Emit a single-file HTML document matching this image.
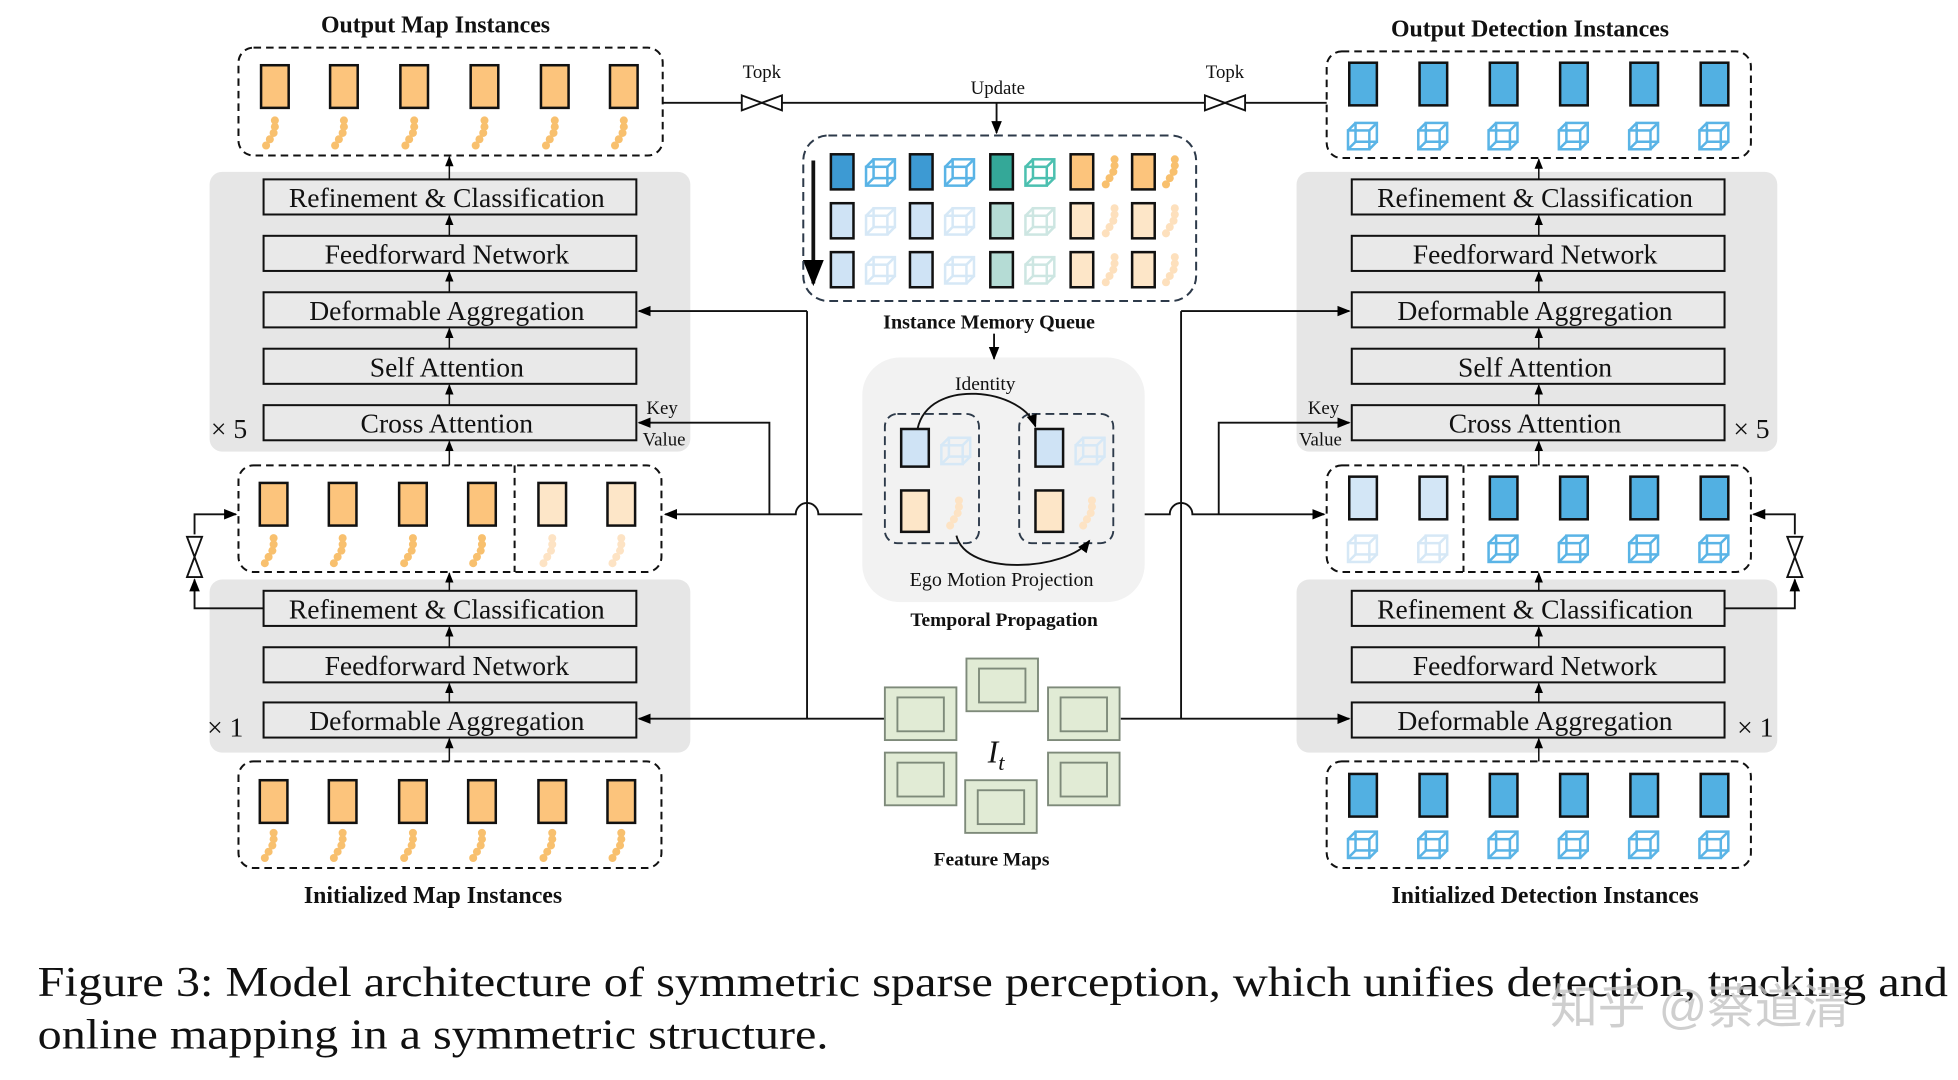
<!DOCTYPE html>
<html><head><meta charset="utf-8"><style>
html,body{margin:0;padding:0;background:#fff;width:1958px;height:1080px;overflow:hidden}
svg{display:block}
text{font-family:"Liberation Serif",serif;fill:#111}
.b{font-weight:bold;font-size:19px}
.bx{font-size:22px}
</style></head><body>
<svg width="1958" height="1080" viewBox="0 0 1560 861" preserveAspectRatio="none" xmlns="http://www.w3.org/2000/svg">
<defs>
<marker id="ar" viewBox="0 0 10 10" refX="9" refY="5" markerWidth="7" markerHeight="7" orient="auto-start-reverse"><path d="M0,1 L10,5 L0,9 z" fill="#000"/></marker>
<g id="sq"><circle cx="9" cy="2" r="3.2"/><circle cx="9" cy="7" r="3.2"/><circle cx="8" cy="12" r="3.2"/><circle cx="5" cy="17" r="3.2"/><circle cx="2" cy="22" r="3.2"/></g>
<g id="cube" fill="none" stroke-width="2"><rect x="0" y="6" width="17" height="15"/><rect x="6" y="0" width="17" height="15"/><path d="M0,6 L6,0 M17,6 L23,0 M17,21 L23,15 M0,21 L6,15"/></g>
</defs>

<rect x="167" y="137" width="383" height="223" rx="10" fill="#e6e6e6"/>
<rect x="167" y="462" width="383" height="138" rx="10" fill="#e6e6e6"/>
<rect x="1033" y="137" width="383" height="223" rx="10" fill="#e6e6e6"/>
<rect x="1033" y="462" width="383" height="138" rx="10" fill="#e6e6e6"/>
<rect x="687" y="285" width="225" height="195" rx="30" fill="#f2f2f2"/>

<text class="b" x="347" y="26" text-anchor="middle">Output Map Instances</text>
<text class="b" x="1219" y="29" text-anchor="middle">Output Detection Instances</text>
<text class="b" x="345" y="720" text-anchor="middle">Initialized Map Instances</text>
<text class="b" x="1231" y="720" text-anchor="middle">Initialized Detection Instances</text>

<g fill="none" stroke="#111" stroke-width="1.6" stroke-dasharray="6,4">
<rect x="190" y="38" width="338" height="86" rx="12"/>
<rect x="190" y="371" width="337" height="85" rx="12"/><line x1="410" y1="371" x2="410" y2="456"/>
<rect x="190" y="607" width="337" height="85" rx="12"/>
<rect x="1057" y="41" width="338" height="85" rx="12"/>
<rect x="1057" y="371" width="338" height="85" rx="12"/><line x1="1166" y1="371" x2="1166" y2="456"/>
<rect x="1057" y="607" width="338" height="85" rx="12"/>
</g>

<g stroke="#111" stroke-width="2">
<rect x="208" y="52" width="22" height="34" fill="#fcc47c"/><rect x="263" y="52" width="22" height="34" fill="#fcc47c"/><rect x="319" y="52" width="22" height="34" fill="#fcc47c"/><rect x="375" y="52" width="22" height="34" fill="#fcc47c"/><rect x="431" y="52" width="22" height="34" fill="#fcc47c"/><rect x="486" y="52" width="22" height="34" fill="#fcc47c"/>
<rect x="207" y="385" width="22" height="34" fill="#fcc47c"/><rect x="262" y="385" width="22" height="34" fill="#fcc47c"/><rect x="318" y="385" width="22" height="34" fill="#fcc47c"/><rect x="373" y="385" width="22" height="34" fill="#fcc47c"/><rect x="429" y="385" width="22" height="34" fill="#fde6c8"/><rect x="484" y="385" width="22" height="34" fill="#fde6c8"/>
<rect x="207" y="622" width="22" height="34" fill="#fcc47c"/><rect x="262" y="622" width="22" height="34" fill="#fcc47c"/><rect x="318" y="622" width="22" height="34" fill="#fcc47c"/><rect x="373" y="622" width="22" height="34" fill="#fcc47c"/><rect x="429" y="622" width="22" height="34" fill="#fcc47c"/><rect x="484" y="622" width="22" height="34" fill="#fcc47c"/>
</g>
<g fill="#f8c06e">
<use href="#sq" x="210" y="94"/><use href="#sq" x="265" y="94"/><use href="#sq" x="321" y="94"/><use href="#sq" x="377" y="94"/><use href="#sq" x="433" y="94"/><use href="#sq" x="488" y="94"/>
<use href="#sq" x="209" y="427"/><use href="#sq" x="264" y="427"/><use href="#sq" x="320" y="427"/><use href="#sq" x="375" y="427"/>
<use href="#sq" x="209" y="662"/><use href="#sq" x="264" y="662"/><use href="#sq" x="320" y="662"/><use href="#sq" x="375" y="662"/><use href="#sq" x="431" y="662"/><use href="#sq" x="486" y="662"/>
</g>
<g fill="#fde3c4"><use href="#sq" x="431" y="427"/><use href="#sq" x="486" y="427"/></g>

<g stroke="#111" stroke-width="2">
<rect x="1075" y="50" width="22" height="34" fill="#52b0e2"/><rect x="1131" y="50" width="22" height="34" fill="#52b0e2"/><rect x="1187" y="50" width="22" height="34" fill="#52b0e2"/><rect x="1243" y="50" width="22" height="34" fill="#52b0e2"/><rect x="1299" y="50" width="22" height="34" fill="#52b0e2"/><rect x="1355" y="50" width="22" height="34" fill="#52b0e2"/>
<rect x="1075" y="380" width="22" height="34" fill="#d3e6f6"/><rect x="1131" y="380" width="22" height="34" fill="#d3e6f6"/><rect x="1187" y="380" width="22" height="34" fill="#52b0e2"/><rect x="1243" y="380" width="22" height="34" fill="#52b0e2"/><rect x="1299" y="380" width="22" height="34" fill="#52b0e2"/><rect x="1355" y="380" width="22" height="34" fill="#52b0e2"/>
<rect x="1075" y="617" width="22" height="34" fill="#52b0e2"/><rect x="1131" y="617" width="22" height="34" fill="#52b0e2"/><rect x="1187" y="617" width="22" height="34" fill="#52b0e2"/><rect x="1243" y="617" width="22" height="34" fill="#52b0e2"/><rect x="1299" y="617" width="22" height="34" fill="#52b0e2"/><rect x="1355" y="617" width="22" height="34" fill="#52b0e2"/>
</g>
<g stroke="#5ab4e6">
<use href="#cube" x="1074" y="98"/><use href="#cube" x="1130" y="98"/><use href="#cube" x="1186" y="98"/><use href="#cube" x="1242" y="98"/><use href="#cube" x="1298" y="98"/><use href="#cube" x="1354" y="98"/>
<use href="#cube" x="1186" y="427"/><use href="#cube" x="1242" y="427"/><use href="#cube" x="1298" y="427"/><use href="#cube" x="1354" y="427"/>
<use href="#cube" x="1074" y="663"/><use href="#cube" x="1130" y="663"/><use href="#cube" x="1186" y="663"/><use href="#cube" x="1242" y="663"/><use href="#cube" x="1298" y="663"/><use href="#cube" x="1354" y="663"/>
</g>
<g stroke="#d6e8f6"><use href="#cube" x="1074" y="427"/><use href="#cube" x="1130" y="427"/></g>

<g fill="#e9e9e9" stroke="#111" stroke-width="1.6">
<rect x="210" y="143" width="297" height="28"/><rect x="210" y="188" width="297" height="28"/><rect x="210" y="233" width="297" height="28"/><rect x="210" y="278" width="297" height="28"/><rect x="210" y="323" width="297" height="28"/>
<rect x="210" y="471" width="297" height="28"/><rect x="210" y="516" width="297" height="28"/><rect x="210" y="560" width="297" height="28"/>
<rect x="1077" y="143" width="297" height="28"/><rect x="1077" y="188" width="297" height="28"/><rect x="1077" y="233" width="297" height="28"/><rect x="1077" y="278" width="297" height="28"/><rect x="1077" y="323" width="297" height="28"/>
<rect x="1077" y="471" width="297" height="28"/><rect x="1077" y="516" width="297" height="28"/><rect x="1077" y="560" width="297" height="28"/>
</g>
<g text-anchor="middle">
<text class="bx" x="356" y="165">Refinement &amp; Classification</text><text class="bx" x="356" y="210">Feedforward Network</text><text class="bx" x="356" y="255">Deformable Aggregation</text><text class="bx" x="356" y="300">Self Attention</text><text class="bx" x="356" y="345">Cross Attention</text>
<text class="bx" x="356" y="493">Refinement &amp; Classification</text><text class="bx" x="356" y="538">Feedforward Network</text><text class="bx" x="356" y="582">Deformable Aggregation</text>
<text class="bx" x="1223" y="165">Refinement &amp; Classification</text><text class="bx" x="1223" y="210">Feedforward Network</text><text class="bx" x="1223" y="255">Deformable Aggregation</text><text class="bx" x="1223" y="300">Self Attention</text><text class="bx" x="1223" y="345">Cross Attention</text>
<text class="bx" x="1223" y="493">Refinement &amp; Classification</text><text class="bx" x="1223" y="538">Feedforward Network</text><text class="bx" x="1223" y="582">Deformable Aggregation</text>
</g>
<text class="bx" x="168" y="349">× 5</text><text class="bx" x="165" y="587">× 1</text>
<text class="bx" x="1381" y="349">× 5</text><text class="bx" x="1384" y="587">× 1</text>
<text x="515" y="330" font-size="15">Key</text><text x="512" y="355" font-size="15">Value</text>
<text x="1042" y="330" font-size="15">Key</text><text x="1035" y="355" font-size="15">Value</text>

<g stroke="#111" stroke-width="1.2" marker-end="url(#ar)">
<line x1="358" y1="143" x2="358" y2="125"/><line x1="358" y1="188" x2="358" y2="172"/><line x1="358" y1="233" x2="358" y2="217"/><line x1="358" y1="278" x2="358" y2="262"/><line x1="358" y1="323" x2="358" y2="307"/><line x1="358" y1="371" x2="358" y2="352"/>
<line x1="358" y1="471" x2="358" y2="457"/><line x1="358" y1="516" x2="358" y2="500"/><line x1="358" y1="560" x2="358" y2="545"/><line x1="358" y1="607" x2="358" y2="589"/>
<line x1="1226" y1="143" x2="1226" y2="127"/><line x1="1226" y1="188" x2="1226" y2="172"/><line x1="1226" y1="233" x2="1226" y2="217"/><line x1="1226" y1="278" x2="1226" y2="262"/><line x1="1226" y1="323" x2="1226" y2="307"/><line x1="1226" y1="371" x2="1226" y2="352"/>
<line x1="1226" y1="471" x2="1226" y2="457"/><line x1="1226" y1="516" x2="1226" y2="500"/><line x1="1226" y1="560" x2="1226" y2="545"/><line x1="1226" y1="607" x2="1226" y2="589"/>
</g>

<g fill="none" stroke="#111" stroke-width="1.5">
<line x1="528" y1="82" x2="1057" y2="82"/>
<path d="M643,248 V573"/>
<path d="M687,410 H652 A9,9 0 0 0 634,410 H530" marker-end="url(#ar)"/>
<path d="M643,248 H509" marker-end="url(#ar)"/>
<path d="M705,573 H509" marker-end="url(#ar)"/>
<path d="M613,410 V337 H509" marker-end="url(#ar)"/>
<path d="M941,248 V573"/>
<path d="M912,410 H932 A9,9 0 0 1 950,410 H1055" marker-end="url(#ar)"/>
<path d="M941,248 H1075" marker-end="url(#ar)"/>
<path d="M893,573 H1075" marker-end="url(#ar)"/>
<path d="M971,410 V337 H1075" marker-end="url(#ar)"/>
<path d="M794,82 V106" marker-end="url(#ar)"/>
<path d="M792,266 V286" marker-end="url(#ar)"/>
<path d="M210,485 H155 V462" marker-end="url(#ar)"/>
<path d="M155,426 V410 H188" marker-end="url(#ar)"/>
<path d="M1374,485 H1430 V462" marker-end="url(#ar)"/>
<path d="M1430,426 V410 H1397" marker-end="url(#ar)"/>
<path d="M648,128 V226" stroke-width="3" marker-end="url(#ar)"/>
</g>
<g fill="#fff" stroke="#111" stroke-width="1.5">
<path d="M591,76 L607,82 L591,88 Z M623,76 L607,82 L623,88 Z"/>
<path d="M960,76 L976,82 L960,88 Z M992,76 L976,82 L992,88 Z"/>
<path d="M149,428 L155,444 L161,428 Z M149,460 L155,444 L161,460 Z"/>
<path d="M1424,428 L1430,444 L1436,428 Z M1424,460 L1430,444 L1436,460 Z"/>
</g>
<text x="607" y="62" font-size="15" text-anchor="middle">Topk</text>
<text x="976" y="62" font-size="15" text-anchor="middle">Topk</text>
<text x="795" y="75" font-size="15" text-anchor="middle">Update</text>

<rect x="640" y="108" width="313" height="132" rx="20" fill="none" stroke="#2d3a4a" stroke-width="1.6" stroke-dasharray="7,4"/>
<g stroke="#111" stroke-width="2">
<rect x="662" y="123" width="18" height="28" fill="#3d9ad3"/><rect x="725" y="123" width="18" height="28" fill="#3d9ad3"/><rect x="789" y="123" width="18" height="28" fill="#34a898"/><rect x="853" y="123" width="18" height="28" fill="#fcc47c"/><rect x="902" y="123" width="18" height="28" fill="#fcc47c"/>
<rect x="662" y="162" width="18" height="28" fill="#cfe3f5"/><rect x="725" y="162" width="18" height="28" fill="#cfe3f5"/><rect x="789" y="162" width="18" height="28" fill="#b5dcd5"/><rect x="853" y="162" width="18" height="28" fill="#fde6c8"/><rect x="902" y="162" width="18" height="28" fill="#fde6c8"/>
<rect x="662" y="201" width="18" height="28" fill="#cfe3f5"/><rect x="725" y="201" width="18" height="28" fill="#cfe3f5"/><rect x="789" y="201" width="18" height="28" fill="#b5dcd5"/><rect x="853" y="201" width="18" height="28" fill="#fde6c8"/><rect x="902" y="201" width="18" height="28" fill="#fde6c8"/>
</g>
<g stroke="#5ab4e6"><use href="#cube" x="690" y="127"/><use href="#cube" x="753" y="127"/></g>
<g stroke="#4cc0b0"><use href="#cube" x="817" y="127"/></g>
<g stroke="#d6e8f6"><use href="#cube" x="690" y="166"/><use href="#cube" x="753" y="166"/><use href="#cube" x="690" y="205"/><use href="#cube" x="753" y="205"/></g>
<g stroke="#cde6e2"><use href="#cube" x="817" y="166"/><use href="#cube" x="817" y="205"/></g>
<g fill="#f8c06e"><use href="#sq" x="879" y="125"/><use href="#sq" x="927" y="125"/></g>
<g fill="#fde0bd"><use href="#sq" x="879" y="164"/><use href="#sq" x="927" y="164"/><use href="#sq" x="879" y="203"/><use href="#sq" x="927" y="203"/></g>
<text x="788" y="262" text-anchor="middle" font-weight="bold" font-size="16">Instance Memory Queue</text>

<g fill="none" stroke="#2d3a4a" stroke-width="1.5" stroke-dasharray="7,4">
<rect x="705" y="330" width="75" height="103" rx="10"/><rect x="812" y="330" width="75" height="103" rx="10"/>
</g>
<g stroke="#111" stroke-width="2">
<rect x="718" y="342" width="22" height="30" fill="#cfe3f5"/><rect x="718" y="391" width="22" height="33" fill="#fde6c8"/>
<rect x="825" y="342" width="22" height="30" fill="#cfe3f5"/><rect x="825" y="391" width="22" height="33" fill="#fde6c8"/>
</g>
<g stroke="#d6e8f6"><use href="#cube" x="750" y="349"/><use href="#cube" x="857" y="349"/></g>
<g fill="#fde3c4"><use href="#sq" x="755" y="397"/><use href="#sq" x="861" y="397"/></g>
<g fill="none" stroke="#111" stroke-width="1.5">
<path d="M731,342 C740,300 815,310 825,340" marker-end="url(#ar)"/>
<path d="M762,427 C770,460 850,455 868,431" marker-end="url(#ar)"/>
</g>
<text x="785" y="311" font-size="15.5" text-anchor="middle">Identity</text>
<text x="798" y="467" font-size="16" text-anchor="middle">Ego Motion Projection</text>
<text x="800" y="499" text-anchor="middle" font-weight="bold" font-size="15.5">Temporal Propagation</text>

<g fill="#e1ebd5" stroke="#7e8a7a" stroke-width="1.5">
<rect x="705" y="548" width="57" height="42"/><rect x="770" y="525" width="57" height="42"/><rect x="835" y="548" width="57" height="42"/>
<rect x="705" y="600" width="57" height="42"/><rect x="769" y="622" width="57" height="42"/><rect x="835" y="600" width="57" height="42"/>
<rect x="715" y="556" width="37" height="27"/><rect x="780" y="533" width="37" height="27"/><rect x="845" y="556" width="37" height="27"/>
<rect x="715" y="608" width="37" height="27"/><rect x="779" y="630" width="37" height="27"/><rect x="845" y="608" width="37" height="27"/>
</g>
<text x="787" y="608" font-size="25" font-style="italic">I<tspan font-size="18" dy="6">t</tspan></text>
<text x="790" y="690" text-anchor="middle" font-weight="bold" font-size="15.5">Feature Maps</text>

<text x="30" y="794" font-size="34" textLength="1522" lengthAdjust="spacingAndGlyphs">Figure 3: Model architecture of symmetric sparse perception, which unifies detection, tracking and</text>
<text x="30" y="836" font-size="34" textLength="630" lengthAdjust="spacingAndGlyphs">online mapping in a symmetric structure.</text>
<text x="1235" y="816" font-size="38" style="fill:#c4c4c4;font-family:'Liberation Sans','Noto Sans CJK SC',sans-serif" opacity="0.8">知乎 @蔡道清</text>
</svg>
</body></html>
